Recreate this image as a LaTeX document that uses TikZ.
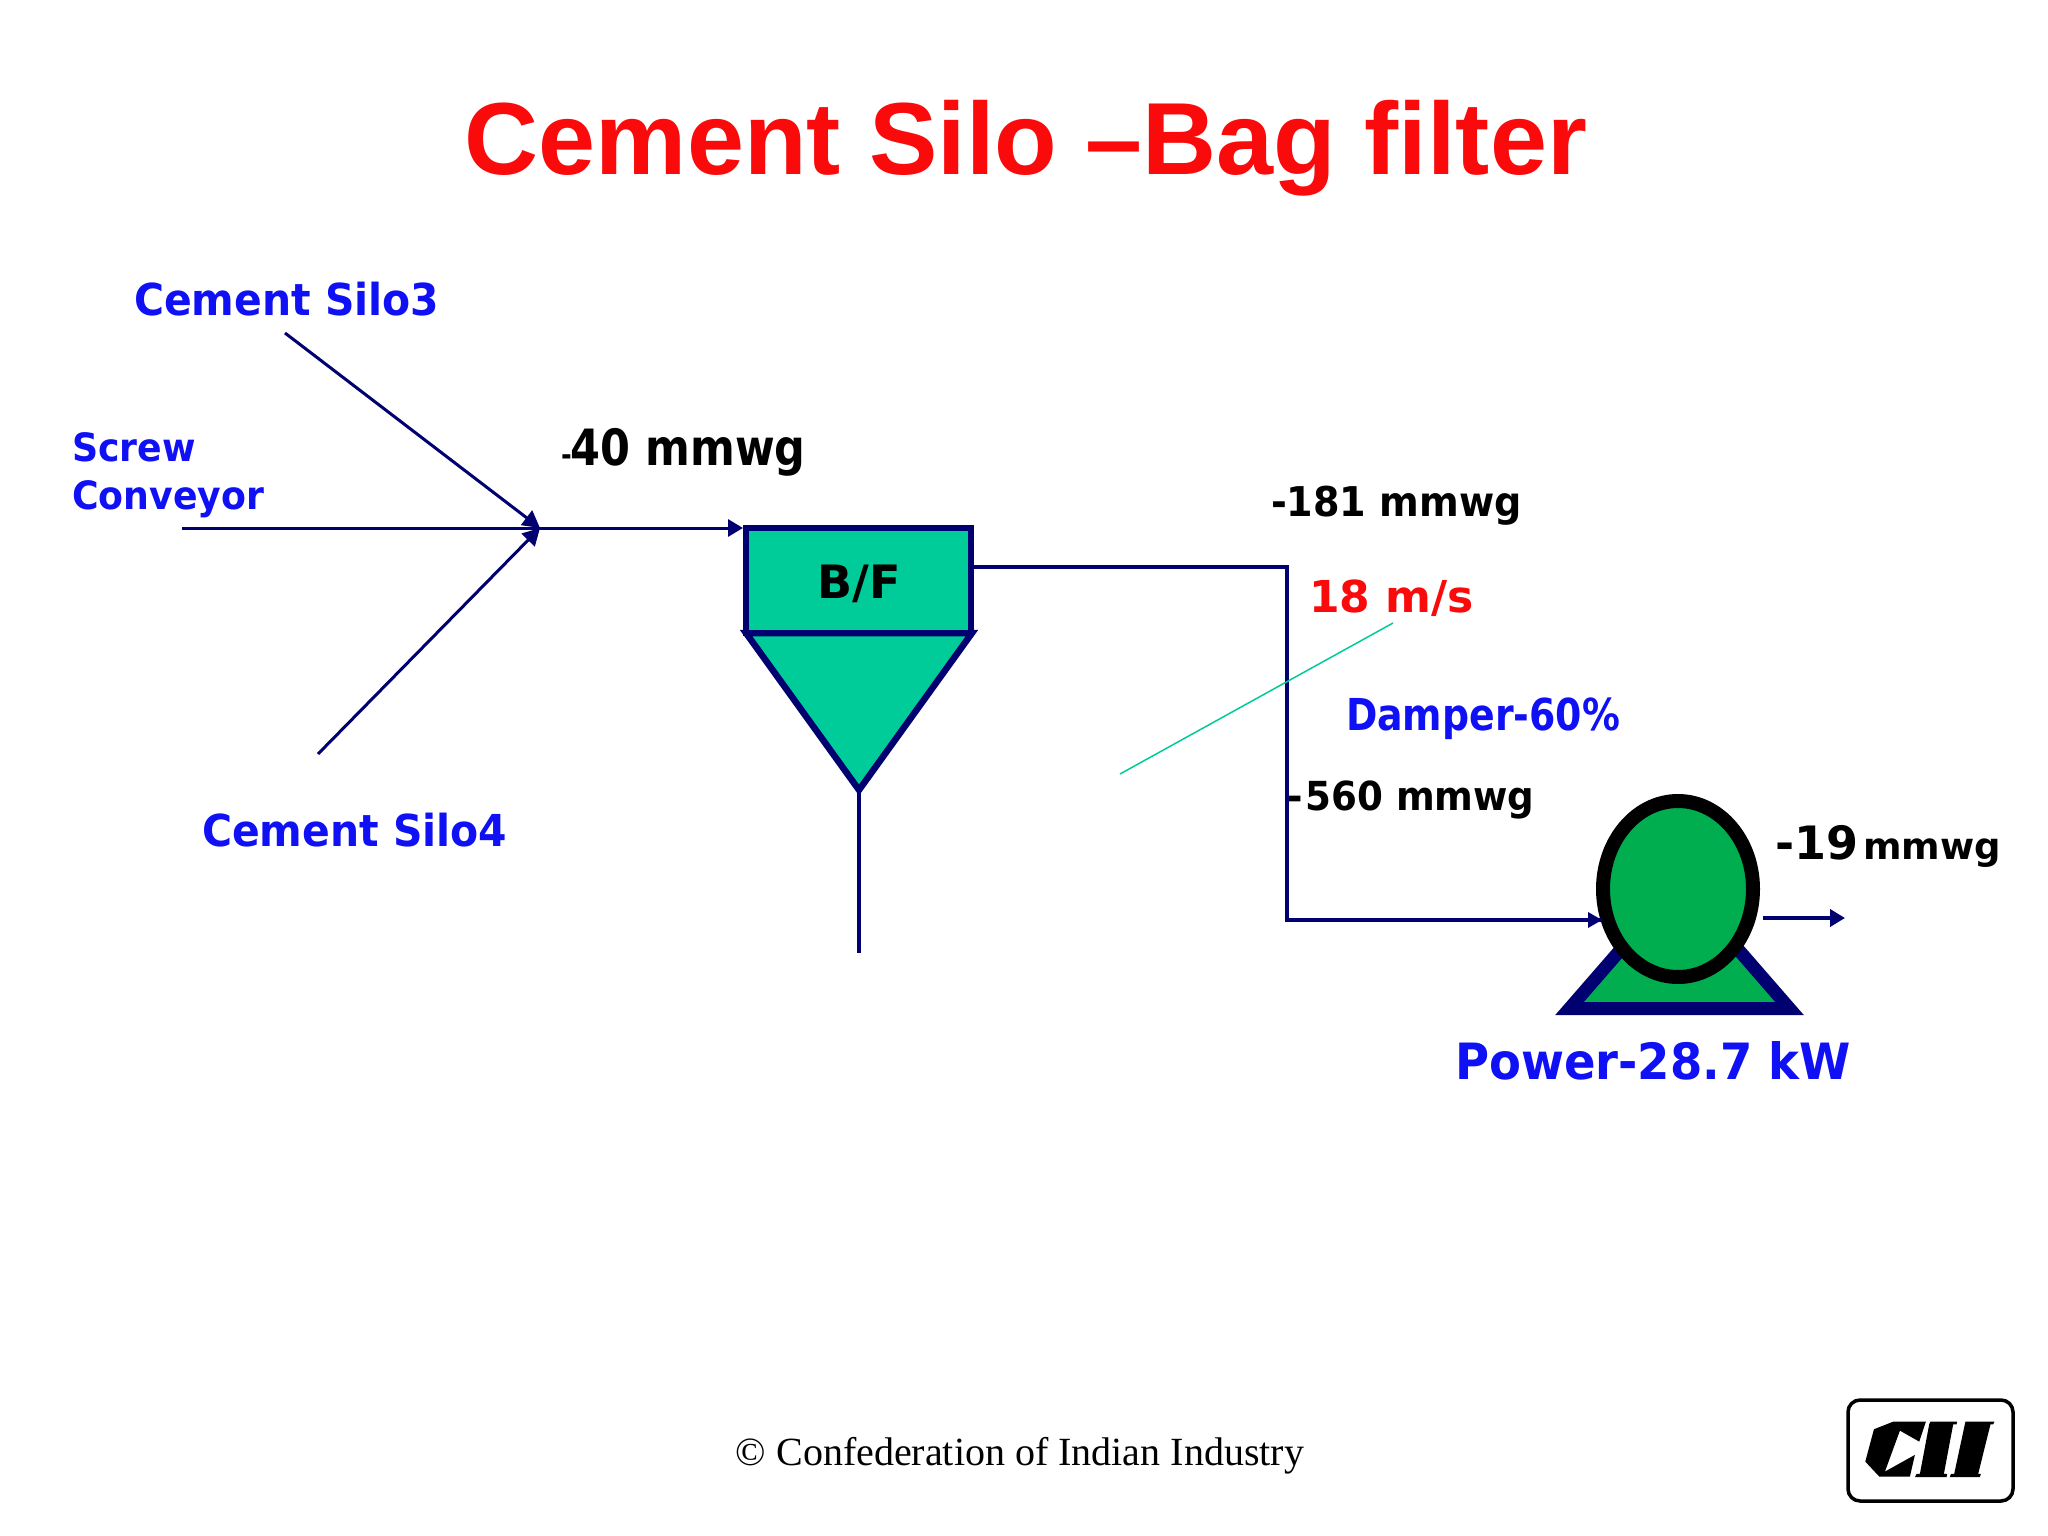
\documentclass[tikz,border=0pt]{standalone}
\usepackage{fontspec}
\usetikzlibrary{arrows.meta,shapes.geometric}
\setmainfont{Liberation Sans}
\newfontfamily\tah[FakeStretch=0.86]{DejaVu Sans}
\newfontfamily\tab[FakeStretch=0.93]{DejaVu Sans}
\newfontfamily\ver{DejaVu Sans}
\newfontfamily\tim{Liberation Serif}
\newcommand{\fs}[1]{\fontsize{#1}{#1}\selectfont}
\definecolor{navy}{HTML}{000070}
\definecolor{bfgreen}{HTML}{00CC99}
\definecolor{fangreen}{HTML}{00AE50}
\definecolor{lblue}{HTML}{1010F5}
\definecolor{lred}{HTML}{FA0A0A}
\tikzset{
 x=1pt,y=-1pt,
 lab/.style={anchor=base west,inner sep=0pt,outer sep=0pt},
 bluelab/.style={lab,text=lblue},
 pipe/.style={draw=navy,line width=3pt},
 tip/.style={-{Triangle[length=17pt,width=18pt]}},
 smalltip/.style={-{Triangle[length=15pt,width=17pt]}},
 equip/.style={draw=navy,line width=6.5pt,line join=miter}
}
\begin{document}
\begin{tikzpicture}
\useasboundingbox (0,0) rectangle (2048,1536);
\fill[white] (0,0) rectangle (2048,1536);
\node[anchor=base,inner sep=0pt,text=lred,font=\fs{102.5}\bfseries] (title) at (1026,175) {Cement Silo --Bag filter};

% coordinates
\coordinate (s3) at (285,333);
\coordinate (sc) at (182,528);
\coordinate (s4) at (318,754);
\coordinate (j) at (540,528);

% bag filter
\coordinate (hl) at (746,633);
\coordinate (hr) at (972,633);
\coordinate (ha) at (859,790);
\draw[equip,fill=bfgreen] (hl) -- (hr) -- (ha) -- cycle;
\node[equip,fill=bfgreen,minimum width=225pt,minimum height=105pt,inner sep=0pt,outer sep=0pt,anchor=north west] (bf) at (746,528) {};
\node[lab,anchor=base,font=\fs{46}\ver\bfseries] (bft) at (859,598) {B/F};
\coordinate (dr) at (859,953);
\draw[pipe,line width=4pt] (ha) -- (dr);

% connectors
\draw[pipe,tip] (s3) -- (j);
\draw[pipe,tip] (s4) -- (j);
\draw[pipe] (sc) -- (j);
\draw[pipe,smalltip,shorten >=3pt] (j) -- (bf.north west);

% fan
\coordinate (tl) at (1569.5,1008.5);
\coordinate (tr) at (1789.5,1008.5);
\coordinate (ta) at (1679.5,882);
\draw[draw=navy,line width=13pt,fill=fangreen,line join=miter] (tl) -- (tr) -- (ta) -- cycle;
\node[ellipse,draw=black,line width=14pt,fill=fangreen,minimum width=150pt,minimum height=176pt,inner sep=0pt,outer sep=0pt] (fan) at (1678,889) {};
\coordinate (d0) at (bf.east |- 0,567);
\coordinate (d1) at (1287,567);
\coordinate (d2) at (1287,920);
\coordinate (fi) at (1602,920);
\draw[pipe,line width=4pt,line join=miter] (d0) -- (d1) -- (d2) -- (fi);
\fill[navy] (fi) -- +(-14,-8) -- +(-14,8) -- cycle;
\coordinate (fo1) at (1763,918);
\coordinate (fo2) at (1845,918);
\draw[pipe,line width=4pt,smalltip] (fo1) -- (fo2);

% damper line
\coordinate (g1) at (1393,623);
\coordinate (g2) at (1120,774);
\draw[draw=bfgreen,line width=1.5pt] (g1) -- (g2);

% labels
\node[bluelab,font=\fs{44}\tab\bfseries] (l1) at (134,315) {Cement Silo3};
\node[bluelab,font=\fs{39}\tab\bfseries] (l2) at (72,461) {Screw};
\node[bluelab,font=\fs{39}\tab\bfseries] (l3) at (72,509.5) {Conveyor};
\node[bluelab,font=\fs{44}\tab\bfseries] (l4) at (202,846) {Cement Silo4};
\node[lab,font=\fs{50}\tah\bfseries] (p1) at (561,465) {{\fs{30}-}\kern-1pt 40 mmwg};
\node[lab,font=\fs{41}\tab\bfseries] (p2) at (1271,516) {-181 mmwg};
\node[lab,text=lred,font=\fs{44}\ver\bfseries] (v) at (1309,612.5) {18 m/s};
\node[bluelab,font=\fs{44}\tah\bfseries] (dm) at (1346,730) {Damper-60\%};
\node[lab,font=\fs{40}\tab\bfseries] (p3) at (1287,810.5) {-\kern3pt 560 mmwg};
\node[lab,font=\fs{46}\ver\bfseries] (p4) at (1775,859) {-19\kern5pt{\fs{37}mmwg}};
\node[bluelab,font=\fs{50}\tab\bfseries] (pw) at (1455,1079) {Power-28.7 kW};
\node[anchor=base,inner sep=0pt,font=\fs{40}\tim] (ft) at (1020,1465) {© Confederation of Indian Industry};

% logo
\draw[black,line width=3.5pt,rounded corners=12pt] (1848,1400) rectangle (2013,1501);
\begin{scope}[shift={(1800,1370)},x=0.333pt,y=-0.333pt]
\fill[black] (222,178) -- (280,155) -- (378,155) -- (358,215) -- (300,182) -- (255,305) -- (345,255) -- (330,320) -- (238,320) -- (196,275) -- cycle;
\fill[black] (392,155) -- (472,155) -- (470,163) -- (460,163) -- (432,312) -- (442,312) -- (440,322) -- (345,322) -- (350,312) -- (360,312) -- (388,163) -- cycle;
\fill[black] (497,155) -- (584,155) -- (580,163) -- (572,163) -- (535,312) -- (543,312) -- (540,322) -- (450,322) -- (453,312) -- (463,312) -- (495,163) -- cycle;
\end{scope}
\end{tikzpicture}
\end{document}
